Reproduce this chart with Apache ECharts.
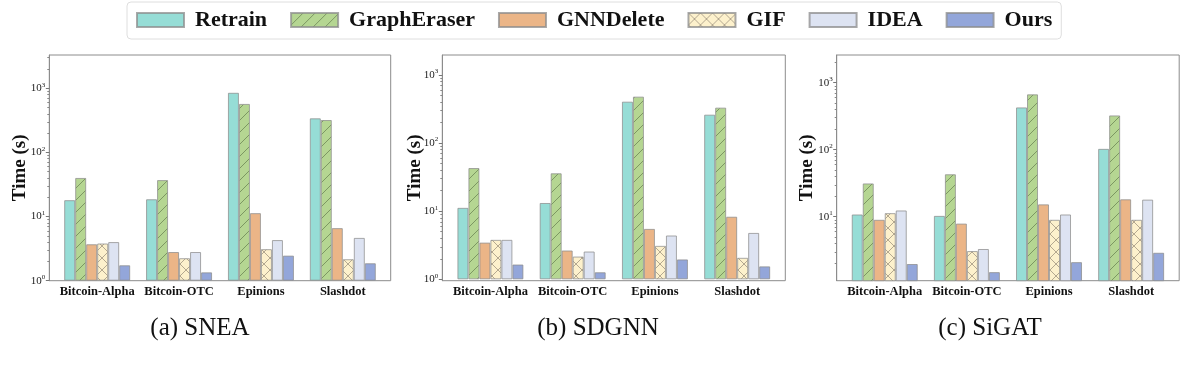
<!DOCTYPE html>
<html><head><meta charset="utf-8">
<script src="https://cdn.jsdelivr.net/npm/echarts@6/dist/echarts.min.js"></script>
<style>html,body{margin:0;padding:0;background:#fff}#c{width:1195px;height:374px}</style>
</head><body><div id="c"></div>
<script>
const categories = ['Bitcoin-Alpha', 'Bitcoin-OTC', 'Epinions', 'Slashdot'];
const methods = ['Retrain', 'GraphEraser', 'GNNDelete', 'GIF', 'IDEA', 'Ours'];
const panelTitles = ['(a) SNEA', '(b) SDGNN', '(c) SiGAT'];
const yAxisName = 'Time (s)';
// one row per method, one column per dataset (seconds)
const sneaTimes = [
  [18, 18.6, 850, 340],
  [40, 37, 570, 320],
  [3.7, 2.8, 11.3, 6.6],
  [3.8, 2.24, 3.1, 2.16],
  [4.0, 2.8, 4.3, 4.65],
  [1.74, 1.35, 2.46, 1.87]
];
const sdgnnTimes = [
  [11.2, 13.2, 405, 261],
  [43, 36, 480, 331],
  [3.46, 2.65, 5.5, 8.3],
  [3.8, 2.16, 3.1, 2.07],
  [3.8, 2.56, 4.4, 4.8],
  [1.65, 1.27, 1.96, 1.55]
];
const sigatTimes = [
  [10.8, 10.3, 428, 103],
  [31.4, 43, 670, 325],
  [9.0, 7.9, 15.3, 18.2],
  [11.3, 3.07, 9.0, 9.0],
  [12.4, 3.3, 10.8, 18],
  [1.97, 1.49, 2.1, 2.9]
];
const panelData = [sneaTimes, sdgnnTimes, sigatTimes];
const yMin = [1, 0.955, 1.11];
const yMax = [3300, 1960, 2590];

// ---- styling ----
const SERIF = '"Liberation Serif","DejaVu Serif",serif';
const fills = ['#96ddd6', '#b5d692', '#ebb587', '#fdf1cc', '#dde3f2', '#93a6da'];
const hatches = [null, '/', null, 'x', null, null];
const hatchColors = [null, 'rgba(95,120,75,0.75)', null, 'rgba(150,140,120,0.8)', null, null];
const grids = [
  {left: 49.3, top: 55, width: 341.4, height: 225.7},
  {left: 442.3, top: 55, width: 343, height: 225.7},
  {left: 836.7, top: 55, width: 342.5, height: 225.7}
];
const nameGaps = [20, 17.5, 20.5];
const captionX = [200, 598, 990];

function makePattern(bg, line, type) {
  const s = 12;
  const c = document.createElement('canvas');
  c.width = s; c.height = s;
  const g = c.getContext('2d');
  g.fillStyle = bg; g.fillRect(0, 0, s, s);
  g.strokeStyle = line; g.lineWidth = 0.9;
  g.beginPath();
  g.moveTo(-2, s + 2); g.lineTo(s + 2, -2);
  g.moveTo(-2, 2); g.lineTo(2, -2);
  g.moveTo(s - 2, s + 2); g.lineTo(s + 2, s - 2);
  if (type === 'x') {
    g.moveTo(-2, -2); g.lineTo(s + 2, s + 2);
    g.moveTo(s - 2, -2); g.lineTo(s + 2, 2);
    g.moveTo(-2, s - 2); g.lineTo(2, s + 2);
  }
  g.stroke();
  return {image: c, repeat: 'repeat'};
}
const colors = fills.map((f, i) => hatches[i] ? makePattern(f, hatchColors[i], hatches[i]) : f);

const minorLogs = [];
for (let d = -1; d < 4; d++) for (let k = 2; k <= 9; k++) minorLogs.push(Math.log10(k * Math.pow(10, d)));

const xAxes = [], yAxes = [], series = [];
grids.forEach((gr, p) => {
  xAxes.push({
    type: 'value', gridIndex: p, min: -0.585, max: 3.585,
    axisLine: {show: false, onZero: false}, axisTick: {show: false}, splitLine: {show: false},
    axisLabel: {customValues: [0, 1, 2, 3], formatter: v => categories[Math.round(v)] || '',
      fontFamily: SERIF, fontWeight: 'bold', fontSize: 12.5, color: '#111', margin: 5}
  });
  yAxes.push({
    type: 'log', gridIndex: p, min: yMin[p], max: yMax[p], position: 'left',
    name: yAxisName, nameLocation: 'middle', nameGap: nameGaps[p], nameMoveOverlap: false,
    nameTextStyle: {fontFamily: SERIF, fontWeight: 'bold', fontSize: 19, color: '#111'},
    axisLine: {show: true, onZero: false, lineStyle: {color: '#8c8c8c', width: 1}},
    axisTick: {show: true, length: 3.5, lineStyle: {color: '#777'}},
    splitLine: {show: false},
    axisLabel: {
      showMinLabel: p === 0, showMaxLabel: false, margin: 4,
      formatter: v => '{b|10}{s|' + Math.round(Math.log10(v)) + '}',
      rich: {
        b: {fontFamily: SERIF, fontSize: 11, color: '#222'},
        s: {fontFamily: SERIF, fontSize: 7, color: '#222', padding: [0, 0, 7, 0]}
      }
    }
  });
  panelData[p].forEach((vals, m) => {
    series.push({
      type: 'bar', name: methods[m], xAxisIndex: p, yAxisIndex: p,
      data: vals.map((v, i) => [i, v]),
      barWidth: 11, barGap: '0%', clip: true,
      itemStyle: {color: colors[m], borderColor: 'rgba(140,140,140,0.75)', borderWidth: 1},
      emphasis: {disabled: true}, animation: false
    });
  });
});
grids.forEach((gr, p) => {
  yAxes.push({
    type: 'value', gridIndex: p, position: 'left',
    min: Math.log10(yMin[p]), max: Math.log10(yMax[p]),
    axisLine: {show: false, onZero: false}, axisLabel: {show: false}, splitLine: {show: false},
    axisTick: {show: true, length: 2, customValues: minorLogs.filter(v => v > Math.log10(yMin[p]) && v < Math.log10(yMax[p])), lineStyle: {color: '#888'}}
  });
});

const chart = echarts.init(document.getElementById('c'), null, {renderer: 'canvas'});
chart.setOption({
  animation: false,
  grid: grids.map(g => Object.assign({show: true, borderColor: '#8c8c8c', borderWidth: 1, backgroundColor: 'transparent', containLabel: false, outerBoundsMode: 'none'}, g)),
  xAxis: xAxes,
  yAxis: yAxes,
  legend: {
    data: methods, left: 127, top: 2, itemWidth: 47, itemHeight: 14, itemGap: 23,
    padding: [7, 9, 8, 9], borderColor: '#dedede', borderWidth: 1, borderRadius: 4,
    icon: 'rect', selectedMode: false,
    textStyle: {fontFamily: SERIF, fontWeight: 'bold', fontSize: 22, color: '#111', padding: [0, 0, 0, 6]}
  },
  series: series,
  graphic: panelTitles.map((t, p) => ({
    type: 'text', x: captionX[p], y: 328,
    style: {text: t, textAlign: 'center', textVerticalAlign: 'middle', fontFamily: SERIF, fontSize: 25, fill: '#111'}
  }))
});
</script></body></html>
